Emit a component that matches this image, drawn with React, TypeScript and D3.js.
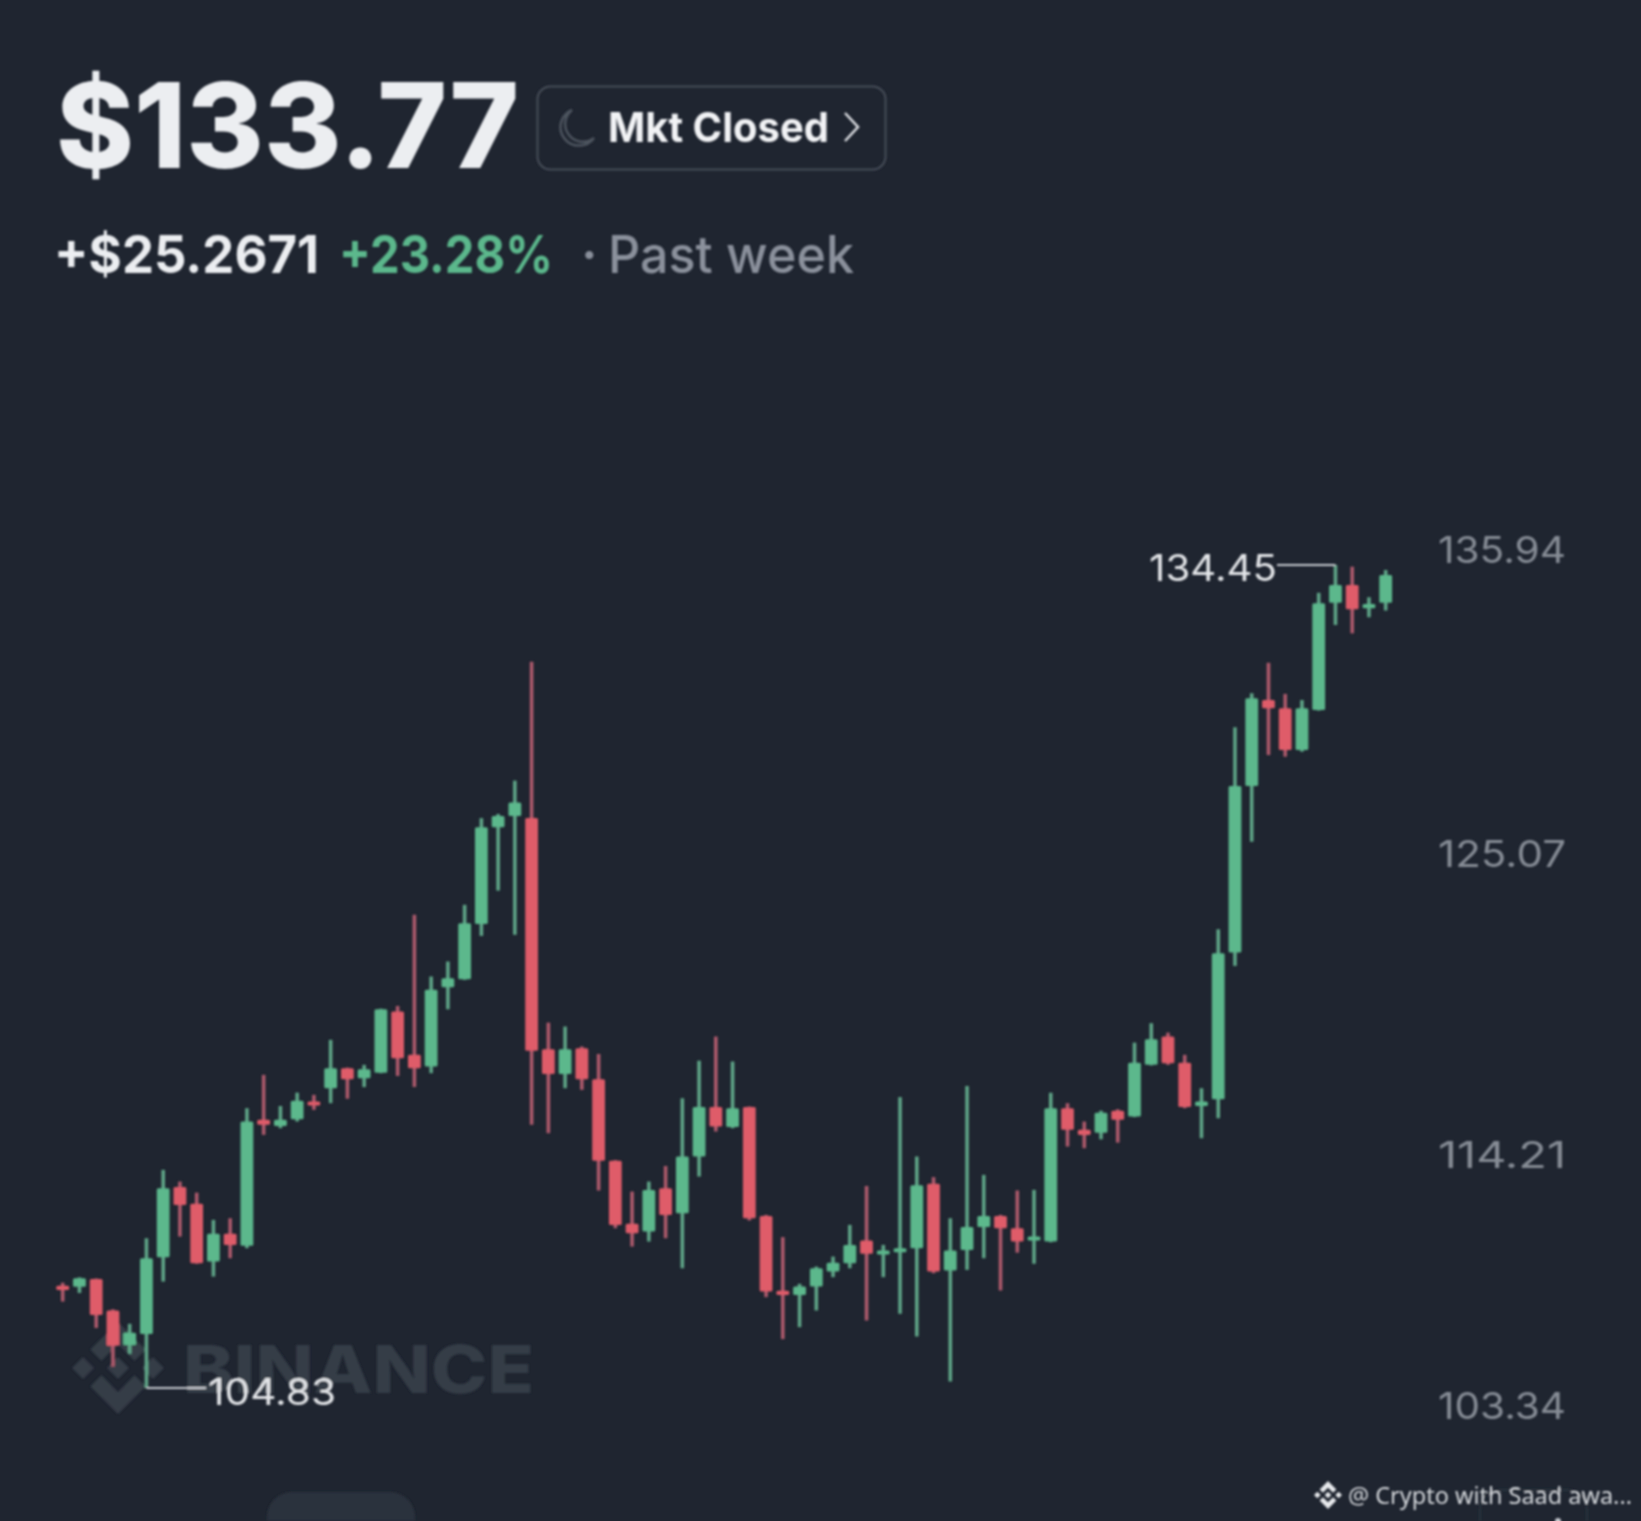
import React from "react"
import * as d3 from "d3"

const opens = [
  108.51, 108.47, 108.75, 107.62, 106.38, 106.77, 109.54, 112.06, 111.46, 109.38,
  110.38, 109.95, 114.48, 114.26, 114.50, 115.14, 115.62, 116.34, 115.98, 116.18,
  118.38, 116.82, 116.40, 119.25, 119.54, 121.53, 125.01, 125.42, 125.34, 117.02,
  116.13, 117.06, 115.94, 113.01, 110.74, 110.46, 112.02, 111.12, 113.16, 114.94,
  114.22, 114.94, 111.02, 108.33, 108.18, 108.48, 109.02, 109.32, 110.14, 109.66,
  109.72, 109.86, 112.18, 109.06, 109.80, 110.62, 111.02, 110.58, 110.14, 110.10,
  114.90, 114.12, 114.02, 114.81, 114.60, 116.46, 117.48, 116.54, 114.98, 115.22,
  120.50, 126.50, 129.59, 129.29, 127.79, 129.23, 133.09, 133.73, 132.89, 133.09,
]
const closes = [
  108.36, 108.78, 107.46, 106.35, 106.82, 109.50, 112.02, 111.42, 109.32, 110.38,
  109.98, 114.42, 114.30, 114.48, 115.17, 115.02, 116.34, 115.94, 116.30, 118.46,
  116.70, 116.34, 119.16, 119.58, 121.56, 125.01, 125.42, 125.90, 116.97, 116.13,
  117.02, 115.94, 113.01, 110.70, 110.40, 111.96, 111.06, 113.16, 114.94, 114.24,
  114.90, 110.94, 108.30, 108.18, 108.48, 109.14, 109.34, 109.98, 109.66, 109.78,
  109.86, 112.13, 109.02, 109.78, 110.62, 111.02, 110.58, 110.10, 110.28, 114.90,
  114.12, 113.94, 114.74, 114.48, 116.54, 117.38, 116.52, 114.94, 115.14, 120.48,
  126.50, 129.65, 129.29, 127.79, 129.29, 133.07, 133.73, 132.86, 133.05, 134.09,
]
const highs = [
  108.62, 108.81, 108.77, 107.66, 107.14, 110.22, 112.68, 112.26, 111.86, 110.88,
  110.94, 114.90, 116.10, 114.98, 115.46, 115.38, 117.36, 116.36, 116.46, 118.48,
  118.58, 121.86, 119.64, 120.18, 122.22, 125.34, 125.49, 126.69, 130.97, 117.98,
  117.84, 117.12, 116.85, 113.03, 111.90, 112.26, 112.82, 115.26, 116.61, 117.48,
  116.58, 114.96, 111.06, 110.26, 108.58, 109.20, 109.56, 110.70, 112.10, 109.98,
  115.30, 113.16, 112.42, 110.94, 115.70, 112.50, 111.06, 111.94, 111.96, 115.46,
  115.08, 114.42, 114.81, 114.86, 117.26, 117.96, 117.62, 116.82, 115.62, 121.34,
  128.61, 129.83, 130.93, 129.81, 129.59, 133.45, 134.45, 134.39, 133.29, 134.27,
]
const lows = [
  107.94, 108.25, 106.99, 105.60, 106.06, 104.83, 108.66, 110.28, 109.30, 108.84,
  109.50, 109.86, 113.94, 114.18, 114.42, 114.84, 115.08, 115.24, 115.66, 116.16,
  116.06, 115.66, 116.16, 118.46, 119.52, 121.10, 122.73, 121.14, 114.30, 114.00,
  115.62, 115.56, 111.94, 110.58, 109.92, 110.10, 110.22, 109.14, 112.44, 114.06,
  114.18, 110.86, 108.10, 106.59, 107.02, 107.62, 108.82, 109.14, 107.26, 108.82,
  107.50, 106.68, 108.96, 105.06, 109.08, 109.50, 108.34, 109.70, 109.30, 110.08,
  113.52, 113.46, 113.78, 113.66, 114.58, 116.44, 116.46, 114.90, 113.82, 114.54,
  120.02, 124.49, 127.61, 127.55, 127.73, 129.21, 132.29, 131.99, 132.57, 132.81,
]
const axisTicks = [135.94, 125.07, 114.21, 103.34]
const axisOffsets = [39, 41, 41, -10] // labels sit below their price, the last one is held off the bottom edge
const highIndex = 76
const lowIndex = 5
const highValue = 134.45
const lowValue = 104.83

const BG = "#1f2530"
const GREEN = "#5cb88c"
const RED = "#df5b69"
const GREEN_WICK = "#5fa587"
const RED_WICK = "#ad5a6c"
const FONT = "Inter, sans-serif"

const x = d3.scaleLinear().domain([0, opens.length - 1]).range([62.7, 1385.7])
const y = d3.scaleLinear().domain([104.83, 134.45]).range([1388, 565])

const Logo = ({ cx, cy, r, fill }: { cx: number; cy: number; r: number; fill: string }) => {
  const chevron = "M0,-1L.6,-.4L.36,-.16L0,-.52L-.36,-.16L-.6,-.4Z"
  const diamond = "M0,-.24L.24,0L0,.24L-.24,0Z"
  return (
    <g transform={`translate(${cx},${cy}) scale(${r})`} fill={fill}>
      <path d={chevron} />
      <path d={chevron} transform="scale(1,-1)" />
      <path d={diamond} />
      <path d={diamond} transform="translate(-.76,0)" />
      <path d={diamond} transform="translate(.76,0)" />
    </g>
  )
}

export default function App() {
  return (
    <svg
      width={1641}
      height={1521}
      style={{ position: "fixed", left: 0, top: 0, background: BG }}
      fontFamily={FONT}
    >
      <defs>
        <filter id="soft" x="-5%" y="-5%" width="110%" height="110%">
          <feGaussianBlur stdDeviation="0.9" />
        </filter>
      </defs>
      <rect width={1641} height={1521} fill={BG} />

      <g filter="url(#soft)">
        {/* header */}
        <text x={56} y={168} fontSize={118} fontWeight={800} fill="#eceef1" textLength={463} lengthAdjust="spacingAndGlyphs">$133.77</text>
        <rect x={537.5} y={86.5} width={348} height={83} rx={13} fill="none" stroke="#474e59" strokeWidth={2} />
        <path d="M572,110A18.5,18.5 0 1 0 594,138A17,17 0 0 1 572,110Z" fill="none" stroke="#4d545f" strokeWidth={2.5} />
        <text x={608} y={142} fontSize={41} fontWeight={700} fill="#f2f3f5" textLength={221} lengthAdjust="spacingAndGlyphs">Mkt Closed</text>
        <path d="M845,113L858,127L845,141" fill="none" stroke="#dfe1e5" strokeWidth={2.5} />

        <text x={54} y={273} fontSize={52} fontWeight={700} fill="#eceef1" textLength={265} lengthAdjust="spacingAndGlyphs">+$25.2671</text>
        <text x={339} y={273} fontSize={52} fontWeight={700} fill={GREEN} textLength={214} lengthAdjust="spacingAndGlyphs">+23.28%</text>
        <text x={581} y={273} fontSize={52} fontWeight={600} fill="#8b919c">·</text>
        <text x={608} y={273} fontSize={52} fontWeight={500} fill="#8b919c" textLength={246} lengthAdjust="spacingAndGlyphs">Past week</text>

        {/* watermark */}
        <Logo cx={118} cy={1368} r={46} fill="#353c47" />
        <text x={183} y={1393} fontSize={66} fontWeight={800} fill="#353c47" textLength={351} lengthAdjust="spacingAndGlyphs">BINANCE</text>

        {/* candles */}
        {opens.map((o, i) => {
          const up = closes[i] >= o
          const top = y(Math.max(o, closes[i]))
          const bottom = y(Math.min(o, closes[i]))
          return (
            <g key={i}>
              <line x1={x(i)} x2={x(i)} y1={y(highs[i])} y2={y(lows[i])} stroke={up ? GREEN_WICK : RED_WICK} strokeWidth={3.6} />
              <rect x={x(i) - 6.4} y={top} width={12.8} height={Math.max(bottom - top, 4)} rx={1.5} fill={up ? GREEN : RED} />
            </g>
          )
        })}

        {/* high / low markers */}
        <path d={`M${x(highIndex)},${y(highValue)}H1277`} fill="none" stroke="#c9ccd1" strokeWidth={2} />
        <text x={1149} y={y(highValue) + 16} fontSize={37} fill="#e3e5e8" textLength={128} lengthAdjust="spacingAndGlyphs">{highValue.toFixed(2)}</text>
        <path d={`M${x(lowIndex)},${y(lowValue)}H206`} fill="none" stroke="#c9ccd1" strokeWidth={2} />
        <text x={208} y={y(lowValue) + 17} fontSize={37} fill="#e3e5e8" textLength={128} lengthAdjust="spacingAndGlyphs">{lowValue.toFixed(2)}</text>

        {/* price axis */}
        {axisTicks.map((t, i) => (
          <text
            key={t}
            x={1438}
            y={y(t) + axisOffsets[i]}
            fontSize={37}
            fill="#868c95"
            textLength={128}
            lengthAdjust="spacingAndGlyphs"
          >
            {t.toFixed(2)}
          </text>
        ))}

        {/* footer */}
        <path d="M267,1521V1517A25,25 0 0 1 292,1492H390A25,25 0 0 1 415,1517V1521Z" fill="#2b323c" />
        <path d="M1480,1521V1510A20,20 0 0 1 1500,1490H1567A20,20 0 0 1 1587,1510V1521" fill="none" stroke="#2b323c" strokeWidth={2} />
        <circle cx={1558} cy={1521} r={3} fill="#c9ccd1" />
        <Logo cx={1328} cy={1495} r={14} fill="#e8eaed" />
        <text x={1348} y={1504} fontSize={24} fontFamily="'Noto Sans', sans-serif" fill="#d5d8dc" textLength={284} lengthAdjust="spacingAndGlyphs">@ Crypto with Saad awa...</text>
      </g>
    </svg>
  )
}
